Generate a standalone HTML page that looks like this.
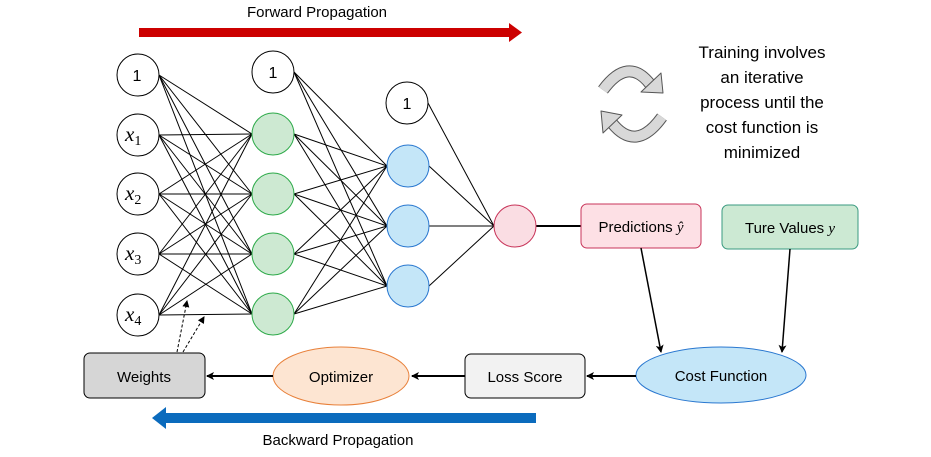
<!DOCTYPE html>
<html><head><meta charset="utf-8"><style>
html,body{margin:0;padding:0;background:#fff}
svg{display:block;font-family:"Liberation Sans",sans-serif}
</style></head><body>
<svg width="931" height="457" viewBox="0 0 931 457" xmlns="http://www.w3.org/2000/svg">
<defs>
<marker id="ah" markerWidth="8" markerHeight="8" refX="7" refY="4" orient="auto" markerUnits="userSpaceOnUse"><path d="M0,0 L8,4 L0,8 L2,4 z" fill="#000"/></marker>
<marker id="ahs" markerWidth="7" markerHeight="7" refX="6" refY="3.5" orient="auto" markerUnits="userSpaceOnUse"><path d="M0,0 L7,3.5 L0,7 z" fill="#000"/></marker>
</defs>
<text x="317" y="17" font-size="15" text-anchor="middle">Forward Propagation</text>
<rect x="139" y="28" width="372" height="9" fill="#cc0000"/>
<polygon points="509,23 522,32.5 509,42" fill="#cc0000"/>
<rect x="164" y="413" width="372" height="10" fill="#0b6bbd"/>
<polygon points="166,407 152,418 166,429" fill="#0b6bbd"/>
<text x="338" y="445" font-size="15" text-anchor="middle">Backward Propagation</text>

<g stroke="#000" stroke-width="1">
<line x1="159" y1="75" x2="252" y2="134"/><line x1="159" y1="75" x2="252" y2="194"/><line x1="159" y1="75" x2="252" y2="254"/><line x1="159" y1="75" x2="252" y2="314"/>
<line x1="159" y1="135" x2="252" y2="134"/><line x1="159" y1="135" x2="252" y2="194"/><line x1="159" y1="135" x2="252" y2="254"/><line x1="159" y1="135" x2="252" y2="314"/>
<line x1="159" y1="194" x2="252" y2="134"/><line x1="159" y1="194" x2="252" y2="194"/><line x1="159" y1="194" x2="252" y2="254"/><line x1="159" y1="194" x2="252" y2="314"/>
<line x1="159" y1="254" x2="252" y2="134"/><line x1="159" y1="254" x2="252" y2="194"/><line x1="159" y1="254" x2="252" y2="254"/><line x1="159" y1="254" x2="252" y2="314"/>
<line x1="159" y1="315" x2="252" y2="134"/><line x1="159" y1="315" x2="252" y2="194"/><line x1="159" y1="315" x2="252" y2="254"/><line x1="159" y1="315" x2="252" y2="314"/>
<line x1="294" y1="72" x2="387" y2="166"/><line x1="294" y1="72" x2="387" y2="226"/><line x1="294" y1="72" x2="387" y2="286"/>
<line x1="294" y1="134" x2="387" y2="166"/><line x1="294" y1="134" x2="387" y2="226"/><line x1="294" y1="134" x2="387" y2="286"/>
<line x1="294" y1="194" x2="387" y2="166"/><line x1="294" y1="194" x2="387" y2="226"/><line x1="294" y1="194" x2="387" y2="286"/>
<line x1="294" y1="254" x2="387" y2="166"/><line x1="294" y1="254" x2="387" y2="226"/><line x1="294" y1="254" x2="387" y2="286"/>
<line x1="294" y1="314" x2="387" y2="166"/><line x1="294" y1="314" x2="387" y2="226"/><line x1="294" y1="314" x2="387" y2="286"/>
<line x1="428" y1="103" x2="494" y2="226"/>
<line x1="429" y1="166" x2="494" y2="226"/><line x1="429" y1="226" x2="494" y2="226"/><line x1="429" y1="286" x2="494" y2="226"/>
</g>
<line x1="536" y1="226" x2="581" y2="226" stroke="#000" stroke-width="2"/>

<g stroke="#000" stroke-width="1" fill="#fff">
<circle cx="138" cy="75" r="21"/><circle cx="138" cy="135" r="21"/><circle cx="138" cy="194" r="21"/><circle cx="138" cy="254" r="21"/><circle cx="138" cy="315" r="21"/>
<circle cx="273" cy="72" r="21"/><circle cx="407" cy="103" r="21"/>
</g>
<g stroke="#2eaa4a" fill="#cde9d2"><circle cx="273" cy="134" r="21"/><circle cx="273" cy="194" r="21"/><circle cx="273" cy="254" r="21"/><circle cx="273" cy="314" r="21"/></g>
<g stroke="#2a78d0" fill="#c4e6f8"><circle cx="408" cy="166" r="21"/><circle cx="408" cy="226" r="21"/><circle cx="408" cy="286" r="21"/></g>
<circle cx="515" cy="226" r="21" stroke="#c8355a" fill="#fadde3"/>
<g font-size="16" text-anchor="middle">
<text x="137" y="81">1</text><text x="273" y="78">1</text><text x="407" y="109">1</text>
</g>
<g font-family="Liberation Serif,serif" font-style="italic" font-size="21">
<text x="125" y="141">x<tspan font-style="normal" font-size="14" dy="4">1</tspan></text>
<text x="125" y="200">x<tspan font-style="normal" font-size="14" dy="4">2</tspan></text>
<text x="125" y="260">x<tspan font-style="normal" font-size="14" dy="4">3</tspan></text>
<text x="125" y="321">x<tspan font-style="normal" font-size="14" dy="4">4</tspan></text>
</g>
<line x1="177" y1="352" x2="187" y2="301" stroke="#000" stroke-dasharray="3,2" marker-end="url(#ahs)"/>
<line x1="183" y1="352" x2="204" y2="317" stroke="#000" stroke-dasharray="3,2" marker-end="url(#ahs)"/>

<g stroke-linejoin="round">
<path d="M603,90 Q628,56 650,84" fill="none" stroke="#555" stroke-width="12"/>
<path d="M603,90 Q628,56 650,84" fill="none" stroke="#d8d8d8" stroke-width="10"/>
<polygon points="641,92 663,93 661,73" fill="#d8d8d8" stroke="#555"/>
<path d="M662,117 Q636,153 612,123" fill="none" stroke="#555" stroke-width="12"/>
<path d="M662,117 Q636,153 612,123" fill="none" stroke="#d8d8d8" stroke-width="10"/>
<polygon points="622,115 601,111 603,133" fill="#d8d8d8" stroke="#555"/>
</g>
<g font-size="17" text-anchor="middle">
<text x="762" y="58">Training involves</text>
<text x="762" y="83">an iterative</text>
<text x="762" y="108">process until the</text>
<text x="762" y="133">cost function is</text>
<text x="762" y="158">minimized</text>
</g>

<rect x="581" y="204" width="120" height="44" rx="6" fill="#fde0e5" stroke="#c8355a"/>
<text x="641" y="232" font-size="15" text-anchor="middle">Predictions <tspan font-family="Liberation Serif,serif" font-style="italic">ŷ</tspan></text>
<rect x="722" y="205" width="136" height="44" rx="6" fill="#cce9d3" stroke="#3a9a80"/>
<text x="790" y="233" font-size="15" text-anchor="middle">Ture Values <tspan font-family="Liberation Serif,serif" font-style="italic">y</tspan></text>
<line x1="641" y1="248" x2="661" y2="352" stroke="#000" stroke-width="1.5" marker-end="url(#ah)"/>
<line x1="790" y1="249" x2="782" y2="352" stroke="#000" stroke-width="1.5" marker-end="url(#ah)"/>
<ellipse cx="721" cy="375" rx="85" ry="28" fill="#c4e6f8" stroke="#2a78d0"/>
<text x="721" y="381" font-size="15" text-anchor="middle">Cost Function</text>
<line x1="636" y1="376" x2="587" y2="376" stroke="#000" stroke-width="2" marker-end="url(#ah)"/>
<rect x="465" y="354" width="120" height="44" rx="6" fill="#f2f2f2" stroke="#000"/>
<text x="525" y="382" font-size="15" text-anchor="middle">Loss Score</text>
<line x1="465" y1="376" x2="412" y2="376" stroke="#000" stroke-width="2" marker-end="url(#ah)"/>
<ellipse cx="341" cy="376" rx="68" ry="29" fill="#fde5d2" stroke="#e8803a"/>
<text x="341" y="382" font-size="15" text-anchor="middle">Optimizer</text>
<line x1="273" y1="376" x2="207" y2="376" stroke="#000" stroke-width="2" marker-end="url(#ah)"/>
<rect x="84" y="353" width="121" height="45" rx="6" fill="#d6d6d6" stroke="#000"/>
<text x="144" y="382" font-size="15" text-anchor="middle">Weights</text>
</svg>
</body></html>
